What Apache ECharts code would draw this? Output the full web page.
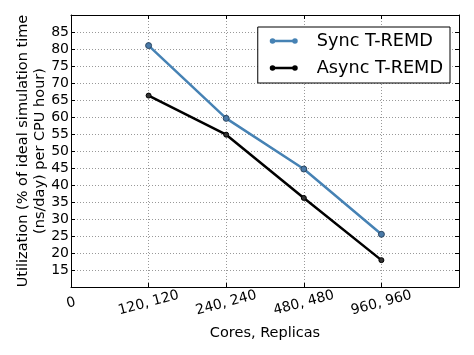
<!DOCTYPE html>
<html>
<head>
<meta charset="utf-8">
<script src="https://cdn.jsdelivr.net/npm/echarts@6/dist/echarts.min.js"></script>
<style>html,body{margin:0;padding:0;background:#fff}#c{width:474px;height:355px}</style>
</head>
<body>
<div id="c"></div>
<script>
var categories = ['0', '120, 120', '240, 240', '480, 480', '960, 960', ''];
var syncValues = [null, 81.0, 59.6, 44.7, 25.5, null];
var asyncValues = [null, 66.3, 54.8, 36.2, 17.9, null];
var yTicks = [15, 20, 25, 30, 35, 40, 45, 50, 55, 60, 65, 70, 75, 80, 85];

var FONT = '"DejaVu Sans", sans-serif';
var chart = echarts.init(document.getElementById('c'));
var legendIcon = 'path://M3,1.7 L27,1.7 L27,4.3 L3,4.3 Z M0,3 a3,3 0 1,1 6,0 a3,3 0 1,1 -6,0 Z M24,3 a3,3 0 1,1 6,0 a3,3 0 1,1 -6,0 Z';
var gridLine = {show: true, lineStyle: {color: '#999', type: [1, 2], width: 1}};
chart.setOption({
  animation: false,
  grid: {left: 71, right: 15, top: 15, bottom: 68},
  legend: {
    top: 27, right: 24,
    orient: 'vertical',
    backgroundColor: '#fff',
    borderColor: '#000', borderWidth: 1, borderRadius: 0,
    padding: [5, 7, 6, 12],
    itemWidth: 28, itemHeight: 6, itemGap: 9,
    textStyle: {fontFamily: FONT, fontSize: 17.7, color: '#000', padding: [0, 0, 0, 14]},
    data: [
      {name: 'Sync T-REMD', icon: legendIcon, itemStyle: {color: '#4682b4', borderWidth: 0}},
      {name: 'Async T-REMD', icon: legendIcon, itemStyle: {color: '#000', borderWidth: 0}}
    ]
  },
  xAxis: [{
    type: 'category', data: categories, boundaryGap: false,
    name: 'Cores, Replicas', nameLocation: 'middle', nameGap: 39, nameMoveOverlap: false,
    nameTextStyle: {fontFamily: FONT, fontSize: 14.5, color: '#000'},
    axisLine: {lineStyle: {color: '#000', width: 1}},
    axisTick: {show: true, inside: true, length: 4, lineStyle: {color: '#000'}},
    axisLabel: {fontFamily: FONT, fontSize: 14, color: '#000', rotate: 15, align: 'center', verticalAlign: 'middle', margin: 16,
      formatter: function (v) { return v; }},
    splitLine: gridLine
  }, {
    type: 'category', data: categories, boundaryGap: false, position: 'top',
    axisLine: {lineStyle: {color: '#000', width: 1}},
    axisTick: {show: true, inside: true, length: 4, lineStyle: {color: '#000'}},
    axisLabel: {show: false}, splitLine: {show: false}
  }],
  yAxis: [{
    type: 'value', min: 10, max: 90, interval: 5,
    name: 'Utilization (% of ideal simulation time\n(ns/day) per CPU hour)',
    nameLocation: 'middle', nameGap: 22, nameMoveOverlap: false,
    nameTextStyle: {fontFamily: FONT, fontSize: 14.5, color: '#000', lineHeight: 17},
    axisLine: {show: true, lineStyle: {color: '#000', width: 1}},
    axisTick: {show: true, inside: true, length: 4, lineStyle: {color: '#000'}},
    axisLabel: {fontFamily: FONT, fontSize: 14, color: '#000', margin: 2,
      formatter: function (v) { return yTicks.indexOf(v) >= 0 ? String(v) : ''; }},
    splitLine: gridLine
  }, {
    type: 'value', min: 10, max: 90, interval: 5, position: 'right',
    axisLine: {show: true, lineStyle: {color: '#000', width: 1}},
    axisTick: {show: true, inside: true, length: 4, lineStyle: {color: '#000'}},
    axisLabel: {show: false}, splitLine: {show: false}
  }],
  series: [{
    name: 'Sync T-REMD', type: 'line', data: syncValues,
    color: '#4682b4',
    lineStyle: {width: 2.5, color: '#4682b4'},
    symbol: 'circle', symbolSize: 6,
    itemStyle: {color: '#4a7aa8', borderColor: '#2b4660', borderWidth: 1},
    z: 3
  }, {
    name: 'Async T-REMD', type: 'line', data: asyncValues,
    color: '#000',
    lineStyle: {width: 2.5, color: '#000'},
    symbol: 'circle', symbolSize: 5,
    itemStyle: {color: '#333', borderColor: '#000', borderWidth: 1},
    z: 2
  }]
});
</script>
</body>
</html>
